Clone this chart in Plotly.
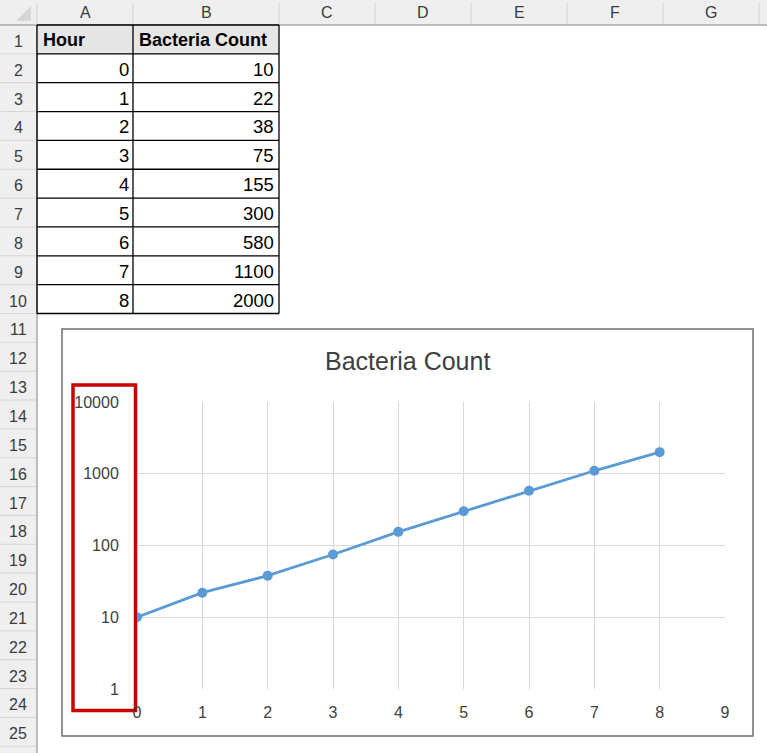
import plotly.graph_objects as go

# data shown in the sheet and in the chart
hours = [0, 1, 2, 3, 4, 5, 6, 7, 8]
bacteria_count = [10, 22, 38, 75, 155, 300, 580, 1100, 2000]
column_letters = ["A", "B", "C", "D", "E", "F", "G"]
header_labels = ["Hour", "Bacteria Count"]
x_ticks = [0, 1, 2, 3, 4, 5, 6, 7, 8, 9]
y_ticks = [1, 10, 100, 1000, 10000]
y_tick_text = ["1", "10", "100", "1000", "10000"]

W, H = 767, 753


def px(x):
    return x / W


def py(y):
    return 1 - y / H


# sheet geometry (pixels)
col_edges = [37, 133, 279, 375, 471, 567, 663, 759]
row_h = 28.85
row_top = 25
n_rows = 25

shapes = []
annotations = []


def line(x0, y0, x1, y1, color, width=1, layer="below"):
    shapes.append(dict(type="line", xref="paper", yref="paper",
                       x0=px(x0), y0=py(y0), x1=px(x1), y1=py(y1),
                       line=dict(color=color, width=width), layer=layer))


def rect(x0, y0, x1, y1, fill, color=None, width=0, layer="below"):
    shapes.append(dict(type="rect", xref="paper", yref="paper",
                       x0=px(x0), y0=py(y0), x1=px(x1), y1=py(y1),
                       fillcolor=fill,
                       line=dict(color=color or fill, width=width), layer=layer))


def text(x, y, s, size=18, color="#000000", xanchor="center", bold=False,
         family="Liberation Sans"):
    if bold:
        s = "<b>" + s + "</b>"
    annotations.append(dict(x=px(x), y=py(y), xref="paper", yref="paper", text=s,
                            showarrow=False, xanchor=xanchor, yanchor="middle",
                            font=dict(size=size, color=color, family=family)))


# header bands
rect(0, 0, W, row_top, "#efefef")
rect(0, row_top, 37, H, "#efefef")
# corner triangle
shapes.append(dict(type="path", xref="paper", yref="paper",
                   path=f"M {px(31)} {py(6)} L {px(31)} {py(21)} L {px(16)} {py(21)} Z",
                   fillcolor="#d6d6d6", line=dict(width=0), layer="below"))
for x in col_edges:
    line(x, 3, x, row_top, "#d2d2d2")
for k in range(1, n_rows + 1):
    y = row_top + k * row_h
    line(0, y, 37, y, "#d6d6d6")
line(0, row_top, W, row_top, "#a9a9a9", 1.5)
line(37, row_top, 37, H, "#a9a9a9", 1.5)

# column letters
for i, letter in enumerate(column_letters):
    text((col_edges[i] + col_edges[i + 1]) / 2, 13, letter, size=16, color="#3b3b3b")
# row numbers
for k in range(n_rows):
    text(18, row_top + (k + 0.5) * row_h + 2, str(k + 1), size=16, color="#3b3b3b")

# data table
rect(37, row_top, 279, row_top + row_h, "#e7e6e6")
table_bottom = row_top + (len(hours) + 1) * row_h
for x in [37, 133, 279]:
    line(x, row_top, x, table_bottom, "#000000", 1.3)
for k in range(len(hours) + 2):
    y = row_top + k * row_h
    line(37, y, 279, y, "#000000", 1.3)
text(41, row_top + row_h / 2 + 1, header_labels[0], xanchor="left", bold=True)
text(137, row_top + row_h / 2 + 1, header_labels[1], xanchor="left", bold=True)
for k, (h, c) in enumerate(zip(hours, bacteria_count)):
    y = row_top + (k + 1.5) * row_h + 1
    text(131, y, str(h), xanchor="right", size=18.5)
    text(276, y, str(c), xanchor="right", size=18.5)

# chart area
rect(62, 329, 753, 736, "#ffffff", "#6f6f6f", 1.5)
text(407, 361, "Bacteria Count", size=25, color="#404040")

# highlight box around the value axis labels
shapes.append(dict(type="rect", xref="paper", yref="paper",
                   x0=px(73), y0=py(385), x1=px(135.5), y1=py(710.5),
                   line=dict(color="#cc0000", width=3.5), layer="below"))

fig = go.Figure(go.Scatter(
    x=hours, y=bacteria_count, mode="lines+markers",
    line=dict(color="#5b9bd5", width=2.8),
    marker=dict(color="#5b9bd5", size=10),
    showlegend=False, hoverinfo="x+y"
))

fig.update_layout(
    width=W, height=H,
    margin=dict(l=0, r=0, t=0, b=0, pad=0),
    paper_bgcolor="#ffffff", plot_bgcolor="rgba(0,0,0,0)",
    shapes=shapes, annotations=annotations,
    font=dict(family="Liberation Sans", color="#595959"),
    xaxis=dict(domain=[px(137), px(725)], range=[0, 9], tickvals=x_ticks,
               automargin=False,
               showgrid=True, gridcolor="#d9d9d9", gridwidth=1,
               zeroline=True, zerolinecolor="rgba(0,0,0,0)",
               showline=False, ticks="outside", ticklen=9,
               tickcolor="rgba(0,0,0,0)", tickfont=dict(size=16, color="#404040"),
               fixedrange=True),
    yaxis=dict(domain=[py(689), py(402)], type="log", range=[0, 4],
               tickvals=y_ticks, ticktext=y_tick_text,
               automargin=False,
               showgrid=True, gridcolor="#d9d9d9", gridwidth=1,
               zeroline=False, showline=False, ticks="outside", ticklen=14,
               tickcolor="rgba(0,0,0,0)", tickfont=dict(size=16, color="#404040"),
               fixedrange=True),
)

# remove the browser's default 8px page margin so the figure sits at the top-left corner
fig.write_html("out.html", config={"displayModeBar": False},
               post_script="document.body.style.margin='0px';")
